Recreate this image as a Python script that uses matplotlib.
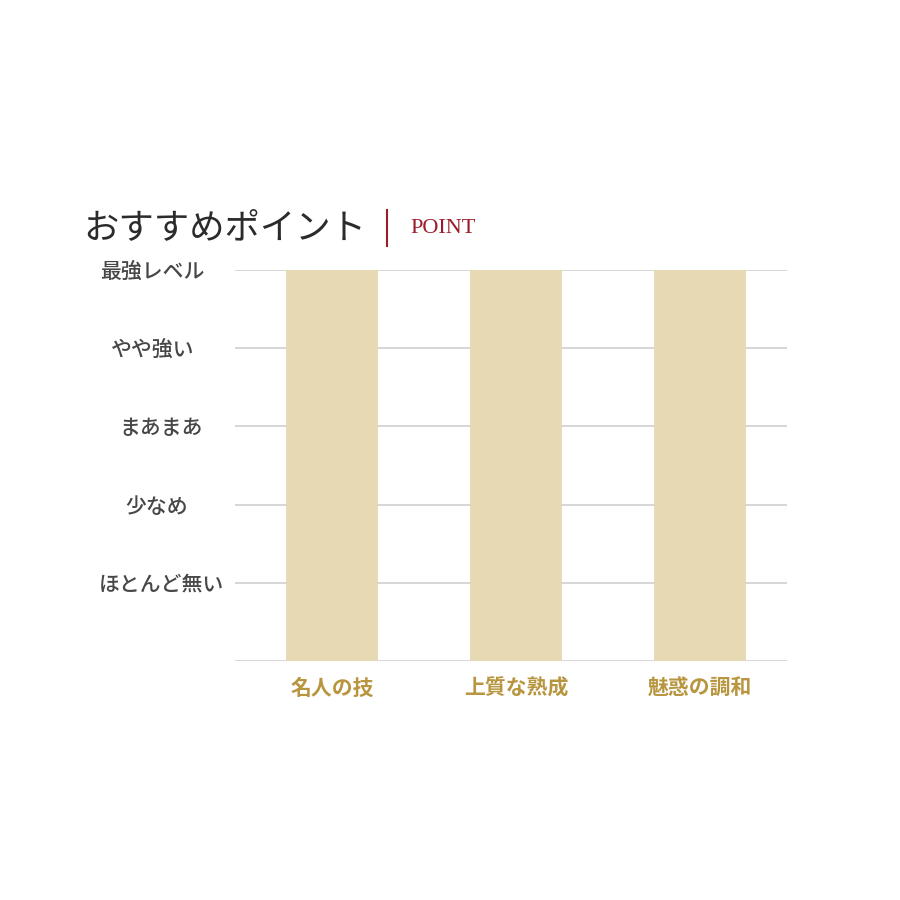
import matplotlib
matplotlib.use("Agg")
import matplotlib.pyplot as plt
from matplotlib.transforms import offset_copy

plt.rcParams['font.family'] = ['Noto Sans CJK JP', 'DejaVu Sans']

categories = ['名人の技', '上質な熟成', '魅惑の調和']
values = [5, 5, 5]
level_labels = ['ほとんど無い', '少なめ', 'まあまあ', 'やや強い', '最強レベル']
level_ticks = [1, 2, 3, 4, 5]

# label centres in the original aren't perfectly aligned
label_x = [-0.133, -0.141, -0.133, -0.150, -0.150]

fig = plt.figure(figsize=(9, 9), dpi=100)
ax = fig.add_axes([0.2611, 0.2656, 0.6133, 0.4344])

x = list(range(len(categories)))
ax.bar(x, values, width=0.5, color='#e6d9b4', zorder=1)

ax.set_xlim(-0.527, 2.473)
ax.set_ylim(0, 5)
for y in [0] + level_ticks:
    ax.axhline(y, color='#cfcfcf', lw=1.2, zorder=0)

for s in ax.spines.values():
    s.set_visible(False)

ax.set_xticks(x)
ax.set_xticklabels(categories, fontsize=15, fontweight='bold', color='#b8953f')
ax.tick_params(axis='x', length=0, pad=12)

ax.set_yticks(level_ticks)
ax.set_yticklabels([])
ax.tick_params(axis='y', length=0)
trans = offset_copy(ax.get_yaxis_transform(), fig=fig, y=-2, units='dots')
for t, lab, lx in zip(level_ticks, level_labels, label_x):
    ax.text(lx, t, lab, transform=trans, ha='center', va='center',
            fontsize=15, fontweight='medium', color='#474747')

fig.text(83 / 900, 1 - 228 / 900, 'おすすめポイント', fontsize=25.5, color='#2b2b2b',
         ha='left', va='center')
fig.lines.append(plt.Line2D([387 / 900, 387 / 900], [1 - 210 / 900, 1 - 246 / 900],
                            transform=fig.transFigure, color='#9b1b2a', lw=1.5))
fig.text(410 / 900, 1 - 228 / 900, 'POINT', fontsize=16, color='#9b1b2a',
         family='Liberation Serif', ha='left', va='center')

fig.savefig('out.png', dpi=100, facecolor='white')
